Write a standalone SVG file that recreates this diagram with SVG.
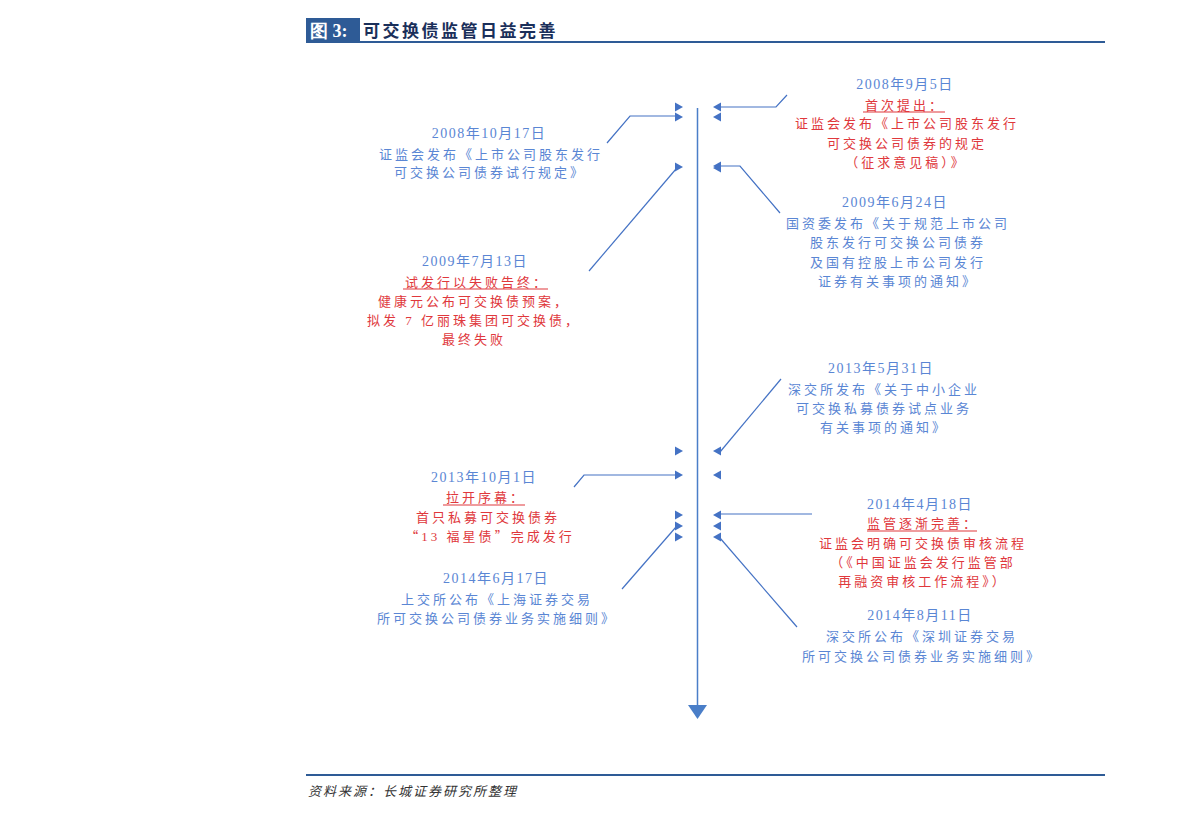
<svg xmlns="http://www.w3.org/2000/svg" xmlns:xlink="http://www.w3.org/1999/xlink" width="1191" height="820" viewBox="0 0 1191 820">
<style>
.t{font-family:"Liberation Serif","Noto Sans CJK SC",serif;text-anchor:middle}
.d{font-size:14px;letter-spacing:1.5px;fill:#5a86d4}
.b{font-size:13px;letter-spacing:3px;fill:#5a86d4}
.r{font-size:13px;letter-spacing:3px;fill:#e0383c}
.cjk{font-family:"Noto Sans CJK SC",sans-serif}
.ul{stroke:#e0383c;stroke-width:1.2}
.c{fill:none;stroke:#4472c4;stroke-width:1.2}
.ah{fill:#4472c4}
</style>
<defs>
<path id="tr" d="M0,-4.5 L8,0 L0,4.5Z"/>
<path id="tl" d="M0,0 L8,-4.5 L8,4.5Z"/>
</defs>
<rect width="1191" height="820" fill="#ffffff"/>
<g id="title">
<rect x="306" y="18" width="54" height="24" fill="#2e5b96"/>
<text x="310" y="37" font-family="Liberation Serif,serif" font-weight="bold" font-size="18" fill="#ffffff">图 3:</text>
<text x="363" y="37" font-family="Liberation Serif,'Noto Sans CJK SC',sans-serif" font-weight="bold" font-size="17" letter-spacing="2.5" fill="#1a2f5a">可交换债监管日益完善</text>
<rect x="306" y="41" width="799" height="2" fill="#2e5b96"/>
</g>
<g id="connectors">
<line x1="697.5" y1="108" x2="697.5" y2="706" stroke="#4a7ec8" stroke-width="1.5"/>
<polygon points="688,705 707,705 697.5,719" fill="#4a7ec8"/>
<polyline class="c" points="787,95 776,107 721,107"/>
<polyline class="c" points="607,143 630,116 675,116"/>
<polyline class="c" points="721,166 740,166 780,213"/>
<line class="c" x1="589" y1="271" x2="676" y2="169"/>
<line class="c" x1="781" y1="379" x2="720" y2="452"/>
<polyline class="c" points="574,487 584,475 675,475"/>
<line class="c" x1="812" y1="514" x2="721" y2="514"/>
<line class="c" x1="622" y1="589" x2="676" y2="527"/>
<line class="c" x1="720" y1="538" x2="797" y2="627"/>
<g class="ah">
<use xlink:href="#tr" x="675" y="107"/><use xlink:href="#tr" x="675" y="117"/><use xlink:href="#tr" x="675" y="167"/><use xlink:href="#tr" x="675" y="451"/><use xlink:href="#tr" x="675" y="475"/><use xlink:href="#tr" x="675" y="515"/><use xlink:href="#tr" x="675" y="526"/><use xlink:href="#tr" x="675" y="537"/>
<use xlink:href="#tl" x="713" y="107"/><use xlink:href="#tl" x="713" y="117"/><use xlink:href="#tl" x="713" y="166"/><use xlink:href="#tl" x="713" y="168"/><use xlink:href="#tl" x="713" y="451"/><use xlink:href="#tl" x="713" y="475"/><use xlink:href="#tl" x="713" y="515"/><use xlink:href="#tl" x="713" y="526"/><use xlink:href="#tl" x="713" y="537"/>
</g>
</g>
<g id="n20080905" class="t">
<text class="d" x="905" y="89">2008年9月5日</text>
<text class="r" x="905" y="109.5">首次提出：</text>
<line class="ul" x1="863" y1="112" x2="945" y2="112"/>
<text class="r" x="907" y="128">证监会发布《上市公司股东发行</text>
<text class="r" x="907" y="147.5">可交换公司债券的规定</text>
<text class="r" x="906" y="167">（征求意见稿）》</text>
</g>
<g id="n20081017" class="t">
<text class="d" x="489" y="138">2008年10月17日</text>
<text class="b" x="491" y="158.5">证监会发布《上市公司股东发行</text>
<text class="b" x="490" y="177">可交换公司债券试行规定》</text>
</g>
<g id="n20090624" class="t">
<text class="d" x="895" y="207">2009年6月24日</text>
<text class="b" x="898" y="227.5">国资委发布《关于规范上市公司</text>
<text class="b" x="898" y="247">股东发行可交换公司债券</text>
<text class="b" x="898" y="266.5">及国有控股上市公司发行</text>
<text class="b" x="898" y="286">证券有关事项的通知》</text>
</g>
<g id="n20090713" class="t">
<text class="d" x="475" y="266">2009年7月13日</text>
<text class="r" x="477" y="286.5">试发行以失败告终：</text>
<line class="ul" x1="403" y1="289" x2="548" y2="289"/>
<text class="r" x="474" y="305.5">健康元公布可交换债预案，</text>
<text class="r" x="474" y="324.5">拟发 7 亿丽珠集团可交换债，</text>
<text class="r" x="474" y="343.5">最终失败</text>
</g>
<g id="n20130531" class="t">
<text class="d" x="881" y="373">2013年5月31日</text>
<text class="b" x="884" y="393.5">深交所发布《关于中小企业</text>
<text class="b" x="884" y="412.5">可交换私募债券试点业务</text>
<text class="b" x="884" y="431.5">有关事项的通知》</text>
</g>
<g id="n20131001" class="t">
<text class="d" x="484" y="482">2013年10月1日</text>
<text class="r" x="486" y="501.5">拉开序幕：</text>
<line class="ul" x1="443" y1="505" x2="525" y2="505"/>
<text class="r" x="488" y="522">首只私募可交换债券</text>
<text class="r" x="490" y="541"><tspan class="cjk">“</tspan>13 福星债<tspan class="cjk">”</tspan>完成发行</text>
</g>
<g id="n20140418" class="t">
<text class="d" x="920" y="509">2014年4月18日</text>
<text class="r" x="923" y="527.5">监管逐渐完善：</text>
<line class="ul" x1="867" y1="531" x2="977" y2="531"/>
<text class="r" x="923" y="548">证监会明确可交换债审核流程</text>
<text class="r" x="923" y="567">（《中国证监会发行监管部</text>
<text class="r" x="923" y="586">再融资审核工作流程》）</text>
</g>
<g id="n20140617" class="t">
<text class="d" x="496" y="583">2014年6月17日</text>
<text class="b" x="497" y="603.5">上交所公布《上海证券交易</text>
<text class="b" x="497" y="623">所可交换公司债券业务实施细则》</text>
</g>
<g id="n20140811" class="t">
<text class="d" x="920" y="620">2014年8月11日</text>
<text class="b" x="922" y="641">深交所公布《深圳证券交易</text>
<text class="b" x="922" y="660.5">所可交换公司债券业务实施细则》</text>
</g>
<g id="source">
<rect x="306" y="774" width="799" height="2" fill="#2e5b96"/>
<text x="308" y="796" font-family="Liberation Serif,'Noto Sans CJK SC',sans-serif" font-style="italic" font-size="13" letter-spacing="2" fill="#333333">资料来源：长城证券研究所整理</text>
</g>
</svg>
